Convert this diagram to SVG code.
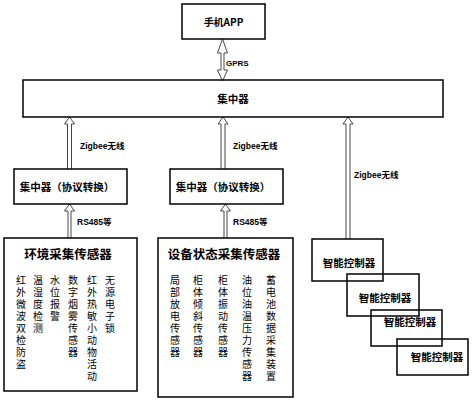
<svg xmlns="http://www.w3.org/2000/svg" width="474" height="404" viewBox="0 0 474 404">
<style>
.box{fill:none;stroke:#000;stroke-width:1.5}
.arr{fill:#fff;stroke:#333;stroke-width:0.9}
.lbl{font-family:"Liberation Sans","Noto Sans CJK SC",sans-serif;font-weight:bold;fill:#000}
.t{font-family:"Noto Sans CJK SC",sans-serif;font-weight:bold;fill:#000;text-anchor:middle}
.col{font-family:"Noto Sans CJK SC",sans-serif;font-size:10px;fill:#000;writing-mode:vertical-rl;letter-spacing:2px}
</style>
<rect width="474" height="404" fill="#fff"/>
<g id="connectors">
<path class="arr" d="M222.5,39 L227.5,53 L224,53 L224,70 L227.5,70 L222.5,81 L217.5,70 L221,70 L221,53 L217.5,53 Z"/>
<text class="lbl" x="226" y="66" font-size="8">GPRS</text>
<path class="arr" d="M67.5,169 L67.5,124 L64.5,124 L69.5,117 L74.5,124 L71.5,124 L71.5,169"/>
<text class="lbl" x="80" y="149" font-size="8.5">Zigbee无线</text>
<path class="arr" d="M221,169 L221,124 L218,124 L223,117 L228,124 L225,124 L225,169"/>
<text class="lbl" x="233" y="149" font-size="8.5">Zigbee无线</text>
<path class="arr" d="M346,239 L346,124 L343,124 L348,117 L353,124 L350,124 L350,239"/>
<text class="lbl" x="354" y="178" font-size="8.5">Zigbee无线</text>
<path class="arr" d="M68,238 L68,211 L64.5,211 L69.5,204 L74.5,211 L71,211 L71,238"/>
<text class="lbl" x="77" y="225" font-size="8.5">RS485等</text>
<path class="arr" d="M224,238 L224,211 L220.5,211 L225.5,204 L230.5,211 L227,211 L227,238"/>
<text class="lbl" x="233" y="225" font-size="8.5">RS485等</text>
</g>
<g id="app">
<rect class="box" x="182" y="4" width="83" height="35"/>
<text class="t" x="223.5" y="26" font-size="10">手机APP</text>
</g>
<g id="hub">
<rect class="box" x="23" y="80" width="420" height="37"/>
<text class="t" x="233" y="103" font-size="10.5">集中器</text>
</g>
<g id="hub1">
<rect class="box" x="14" y="169" width="113" height="35"/>
<text class="t" x="67" y="191" font-size="10.5">集中器（协议转换）</text>
</g>
<g id="hub2">
<rect class="box" x="170" y="169" width="113" height="35"/>
<text class="t" x="223" y="191" font-size="10.5">集中器（协议转换）</text>
</g>
<g id="env">
<rect class="box" x="4" y="238" width="133" height="153"/>
<text class="t" x="68" y="259" font-size="12.5">环境采集传感器</text>
<text class="col" x="21" y="275">红外微波双检防盗</text>
<text class="col" x="38" y="275">温湿度检测</text>
<text class="col" x="55" y="275">水位报警</text>
<text class="col" x="73" y="275">数字烟雾传感器</text>
<text class="col" x="92" y="275">红外热敏小动物活动</text>
<text class="col" x="110" y="275">无源电子锁</text>
</g>
<g id="dev">
<rect class="box" x="158" y="238" width="135" height="159"/>
<text class="t" x="224" y="259" font-size="12.5">设备状态采集传感器</text>
<text class="col" x="175" y="275">局部放电传感器</text>
<text class="col" x="198" y="275">柜体倾斜传感器</text>
<text class="col" x="223" y="275">柜体振动传感器</text>
<text class="col" x="247" y="275">油位油温压力传感器</text>
<text class="col" x="271" y="275">蓄电池数据采集装置</text>
</g>
<g id="ctrl1">
<rect class="box" x="312" y="239" width="71" height="42"/>
<text class="t" x="349" y="267" font-size="10.5">智能控制器</text>
</g>
<g id="ctrl2">
<rect class="box" x="347" y="274" width="72" height="42"/>
<text class="t" x="385" y="302" font-size="10.5">智能控制器</text>
</g>
<g id="ctrl3">
<rect class="box" x="371" y="310" width="71" height="36"/>
<text class="t" x="410" y="326" font-size="10.5">智能控制器</text>
</g>
<g id="ctrl4">
<rect class="box" x="397" y="339" width="71" height="36"/>
<text class="t" x="437" y="361" font-size="10.5">智能控制器</text>
</g>
</svg>
